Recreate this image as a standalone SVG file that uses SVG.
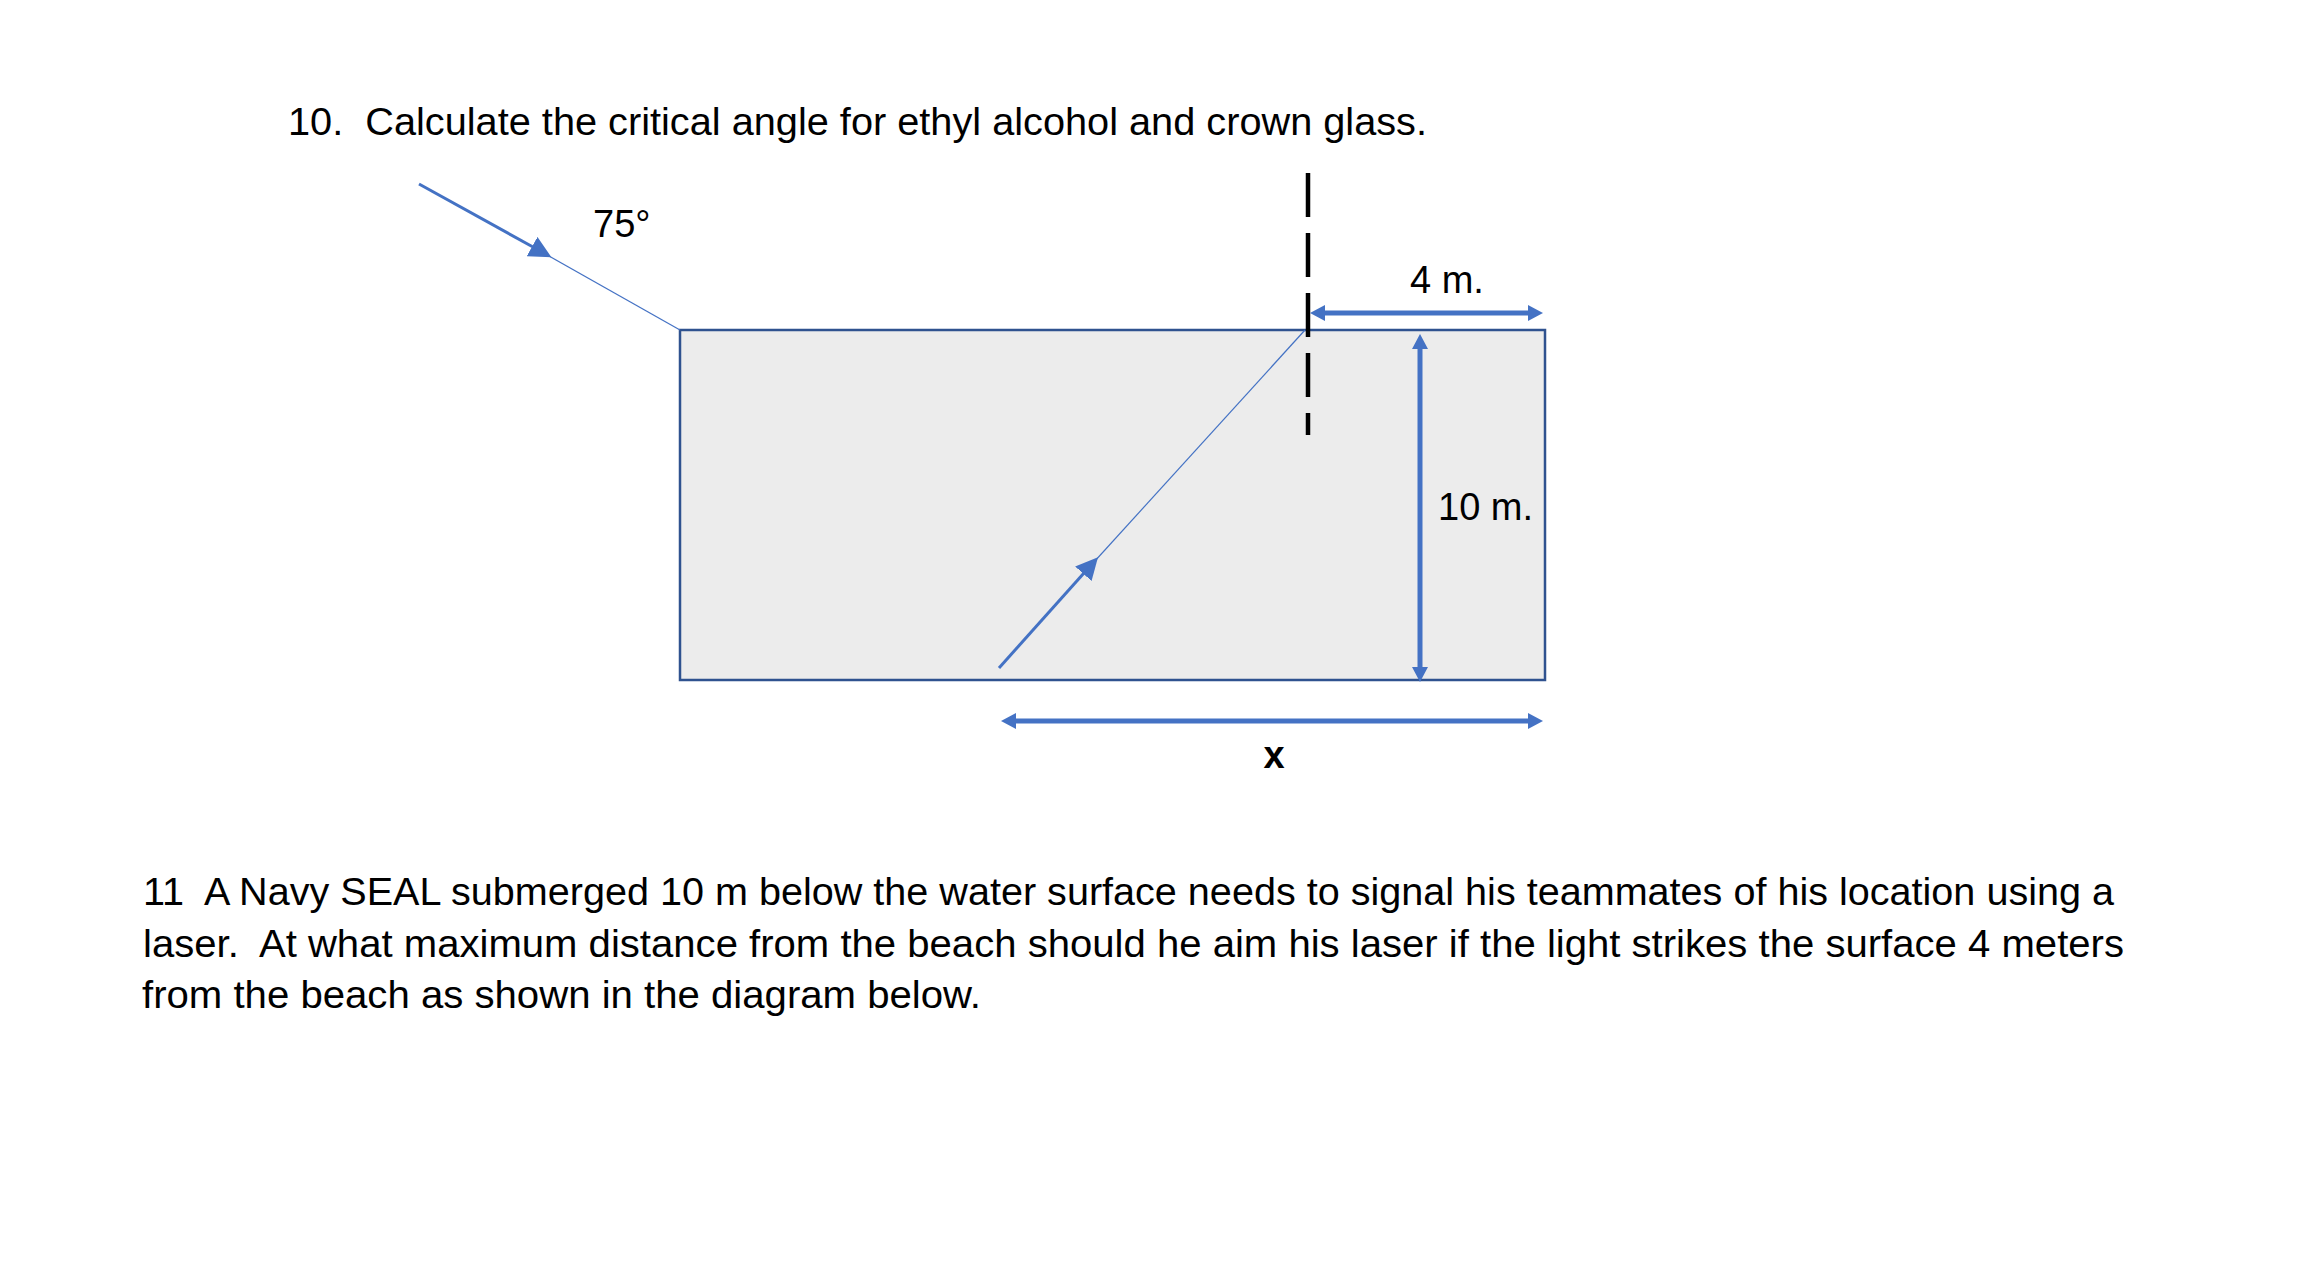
<svg xmlns="http://www.w3.org/2000/svg" width="2308" height="1282" viewBox="0 0 2308 1282">
<style>
  .t { font-family: "Liberation Sans", Arial, sans-serif; font-size: 38px; fill: #000; white-space: pre; }
  .dim { stroke: #4472C4; stroke-width: 5; fill: none; }
  .ray { stroke: #4472C4; stroke-width: 3; fill: none; }
  .thin { stroke: #4472C4; stroke-width: 1.2; fill: none; }
</style>
<defs>
  <marker id="dimHead" viewBox="0 0 15 16" markerWidth="15" markerHeight="16" refX="1" refY="8" orient="auto-start-reverse" markerUnits="userSpaceOnUse">
    <path d="M0,0 L15,8 L0,16 Z" fill="#4472C4"/>
  </marker>
  <marker id="rayHead" viewBox="0 0 22 22" markerWidth="22" markerHeight="22" refX="1" refY="11" orient="auto" markerUnits="userSpaceOnUse">
    <path d="M0,0 L22,11 L0,22 Z" fill="#4472C4"/>
  </marker>
</defs>
<rect width="2308" height="1282" fill="#ffffff"/>

<g id="title">
  <text class="t" x="288" y="135" textLength="1139" lengthAdjust="spacingAndGlyphs">10.  Calculate the critical angle for ethyl alcohol and crown glass.</text>
</g>

<g id="water">
  <rect x="680" y="330" width="865" height="350" fill="#ECECEC" stroke="#2F528F" stroke-width="2.5"/>
</g>

<g id="normal">
  <line x1="1308" y1="173" x2="1308" y2="435" stroke="#000" stroke-width="4.5" stroke-dasharray="44 16"/>
</g>

<g id="connectors">
  <line class="ray" x1="419" y1="184" x2="533" y2="247" marker-end="url(#rayHead)"/>
  <line class="thin" x1="533" y1="247" x2="680" y2="330"/>
  <line class="ray" x1="999" y1="668" x2="1084" y2="573" marker-end="url(#rayHead)"/>
  <line class="thin" x1="1084" y1="573" x2="1305" y2="330"/>
  <line class="dim" x1="1324" y1="313" x2="1529" y2="313" marker-start="url(#dimHead)" marker-end="url(#dimHead)"/>
  <line class="dim" x1="1420" y1="348" x2="1420" y2="668" marker-start="url(#dimHead)" marker-end="url(#dimHead)"/>
  <line class="dim" x1="1015" y1="721" x2="1529" y2="721" marker-start="url(#dimHead)" marker-end="url(#dimHead)"/>
</g>

<g id="label-angle">
  <text class="t" x="593" y="237">75°</text>
</g>
<g id="label-4m">
  <text class="t" x="1410" y="293">4 m.</text>
</g>
<g id="label-10m">
  <text class="t" x="1438" y="520">10 m.</text>
</g>
<g id="label-x">
  <text class="t" x="1274" y="768" text-anchor="middle" font-weight="bold">x</text>
</g>

<g id="question">
  <text class="t" x="143" y="905" textLength="1971" lengthAdjust="spacingAndGlyphs">11  A Navy SEAL submerged 10 m below the water surface needs to signal his teammates of his location using a</text>
  <text class="t" x="143" y="957" textLength="1981" lengthAdjust="spacingAndGlyphs">laser.  At what maximum distance from the beach should he aim his laser if the light strikes the surface 4 meters</text>
  <text class="t" x="142" y="1008" textLength="839" lengthAdjust="spacingAndGlyphs">from the beach as shown in the diagram below.</text>
</g>
</svg>
